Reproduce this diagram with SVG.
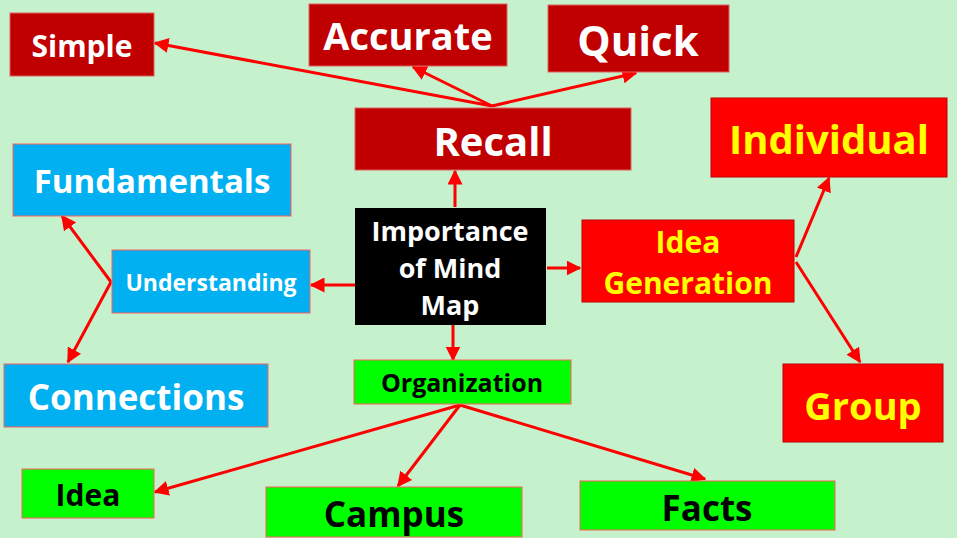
<svg xmlns="http://www.w3.org/2000/svg" width="957" height="538" viewBox="0 0 957 538">
<defs>
<marker id="ah" viewBox="0 0 10 10" refX="9" refY="5" markerWidth="5" markerHeight="5" orient="auto-start-reverse"><path d="M0,0L10,5L0,10z" fill="#ff0000"/></marker>
<style>
text{font-family:"Open Sans","Noto Sans","DejaVu Sans",sans-serif;font-weight:bold;text-anchor:middle;dominant-baseline:central}
.dr{fill:#c00000;stroke:#e06060;stroke-width:1}
.rd{fill:#ff0000;stroke:#c00000;stroke-width:1}
.bl{fill:#00b0f0;stroke:#ff6060;stroke-width:1}
.gr{fill:#00ff00;stroke:#ff6060;stroke-width:1}
.w{fill:#fff}.y{fill:#ffff00}.k{fill:#000}
#edges line{stroke:#ff0000;stroke-width:3;marker-end:url(#ah)}
</style>
</defs>
<rect width="957" height="538" fill="#c5f1cc"/>
<g id="edges">
<line x1="492" y1="106" x2="155" y2="43"/>
<line x1="492" y1="106" x2="413" y2="67"/>
<line x1="492" y1="106" x2="636" y2="73"/>
<line x1="455" y1="207" x2="455" y2="171"/>
<line x1="355" y1="285" x2="311" y2="285"/>
<line x1="547" y1="268" x2="580" y2="268"/>
<line x1="453" y1="325" x2="453" y2="360"/>
<line x1="111" y1="282" x2="62" y2="216"/>
<line x1="111" y1="282" x2="68" y2="362"/>
<line x1="796" y1="257" x2="829" y2="178"/>
<line x1="796" y1="262" x2="860" y2="362"/>
<line x1="460" y1="405" x2="155" y2="492"/>
<line x1="460" y1="405" x2="398" y2="486"/>
<line x1="460" y1="405" x2="705" y2="479"/>
</g>
<g id="simple"><rect class="dr" x="10" y="13" width="144" height="63"/><text class="w" x="82" y="45" font-size="30">Simple</text></g>
<g id="accurate"><rect class="dr" x="309" y="4" width="198" height="62"/><text class="w" x="408" y="35" font-size="38">Accurate</text></g>
<g id="quick"><rect class="dr" x="548" y="5" width="181" height="67"/><text class="w" x="638" y="39" font-size="42">Quick</text></g>
<g id="recall"><rect class="dr" x="355" y="108" width="276" height="62"/><text class="w" x="493" y="140" font-size="40">Recall</text></g>
<g id="individual"><rect class="rd" x="711" y="98" width="236" height="79"/><text class="y" x="829" y="138" font-size="40">Individual</text></g>
<g id="fundamentals"><rect class="bl" x="13" y="144" width="278" height="72"/><text class="w" x="152" y="180" font-size="33">Fundamentals</text></g>
<g id="understanding"><rect class="bl" x="112" y="250" width="198" height="63"/><text class="w" x="211" y="282" font-size="23">Understanding</text></g>
<g id="center"><rect fill="#000" x="355" y="208" width="191" height="117"/><text class="w" font-size="27"><tspan x="450" y="230">Importance</tspan><tspan x="450" y="267">of Mind</tspan><tspan x="450" y="304">Map</tspan></text></g>
<g id="ideagen"><rect class="rd" x="582" y="220" width="212" height="82"/><text class="y" font-size="30"><tspan x="688" y="241">Idea</tspan><tspan x="688" y="282">Generation</tspan></text></g>
<g id="connections"><rect class="bl" x="4" y="364" width="264" height="63"/><text class="w" x="136" y="396" font-size="35">Connections</text></g>
<g id="group"><rect class="rd" x="783" y="364" width="160" height="78"/><text class="y" x="863" y="405" font-size="38">Group</text></g>
<g id="organization"><rect class="gr" x="354" y="360" width="217" height="44"/><text class="k" x="462" y="382" font-size="25">Organization</text></g>
<g id="idea"><rect class="gr" x="22" y="469" width="132" height="49"/><text class="k" x="88" y="494" font-size="30">Idea</text></g>
<g id="campus"><rect class="gr" x="266" y="487" width="256" height="50"/><text class="k" x="394" y="513" font-size="35">Campus</text></g>
<g id="facts"><rect class="gr" x="580" y="481" width="255" height="49"/><text class="k" x="707" y="507" font-size="35">Facts</text></g>
</svg>
